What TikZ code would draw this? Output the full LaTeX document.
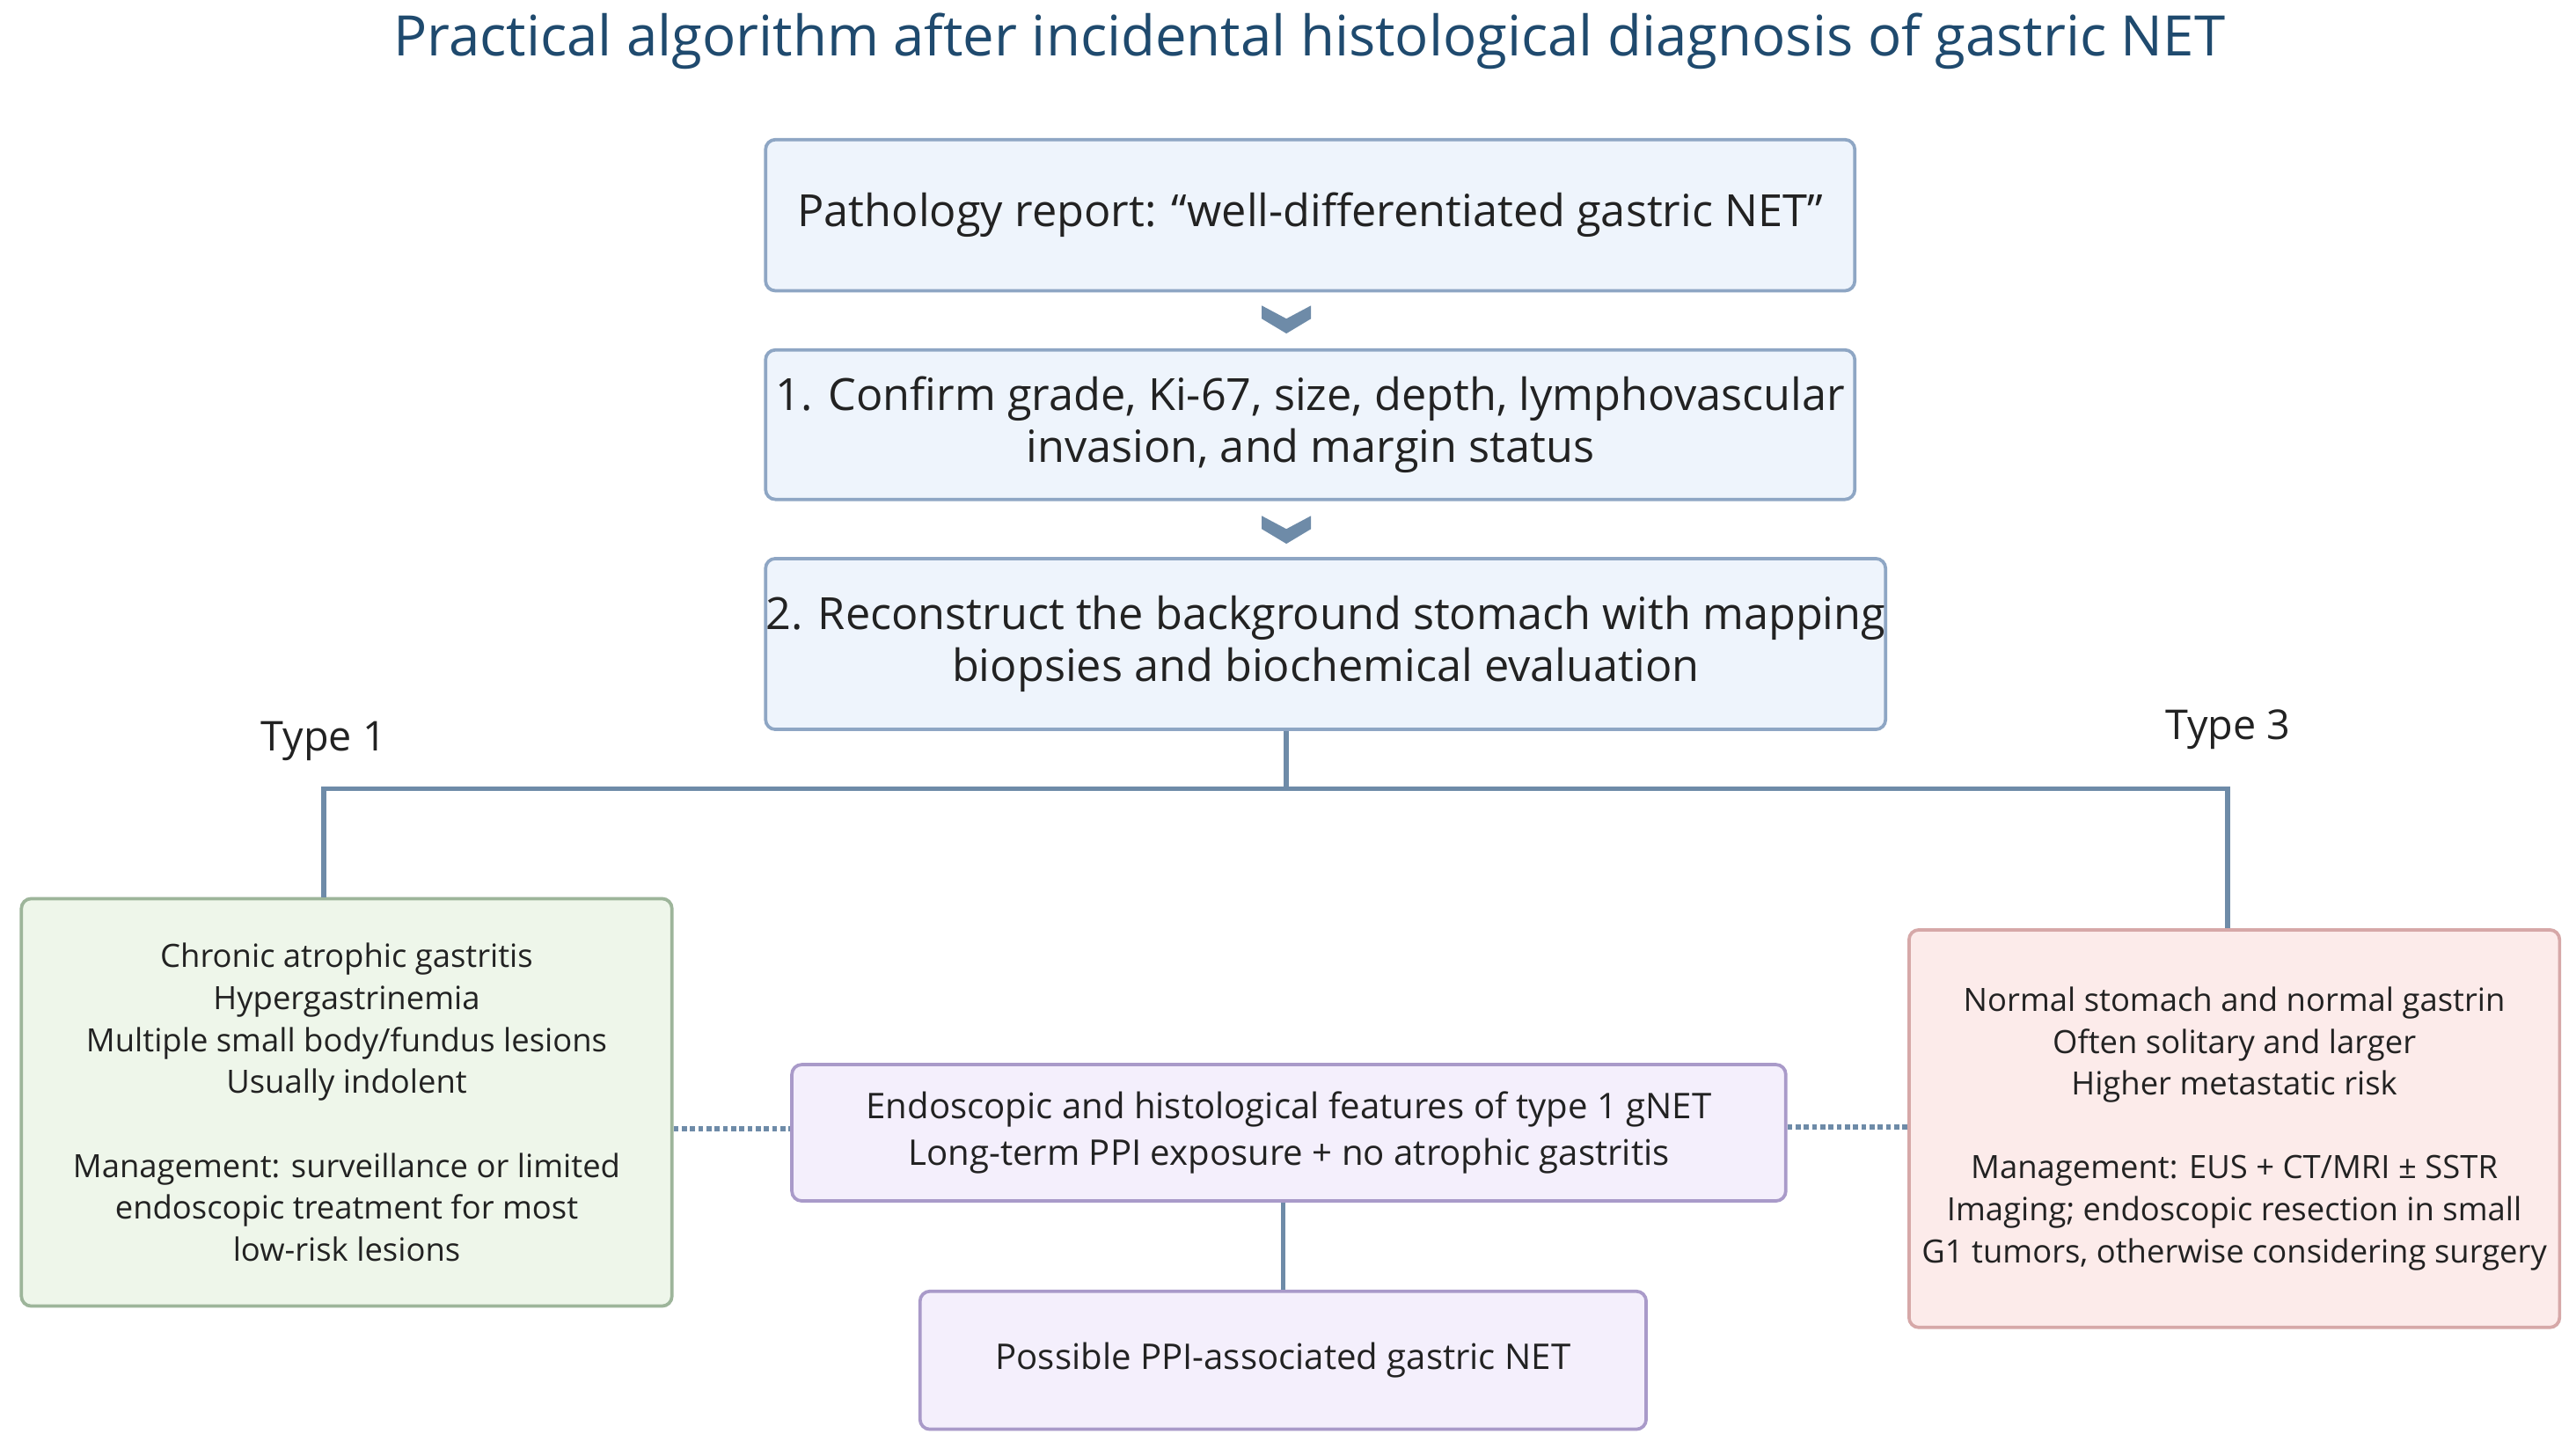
\documentclass[tikz,border=0pt]{standalone}
\usepackage{fontspec}
\setmainfont{Open Sans}
\definecolor{linec}{HTML}{6E8BA8}
\definecolor{titlec}{HTML}{1F4A6E}
\definecolor{bluef}{HTML}{EEF4FC}
\definecolor{blueb}{HTML}{8EA6C4}
\definecolor{greenf}{HTML}{EEF6EA}
\definecolor{greenb}{HTML}{9DB59A}
\definecolor{redf}{HTML}{FCEBEA}
\definecolor{redb}{HTML}{D6A8A8}
\definecolor{purf}{HTML}{F4EFFC}
\definecolor{purb}{HTML}{A99AC9}
\definecolor{txt}{HTML}{222222}
\begin{document}
\begin{tikzpicture}[x=1pt,y=-1pt,
  box/.style={draw, line width=2pt, rounded corners=6pt, anchor=north west, inner sep=0pt, align=center, text=txt},
  conn/.style={draw=linec, line width=3pt},
  dotc/.style={draw=linec, line width=3pt, dotted},
  big/.style={font=\fontsize{27}{32}\selectfont},
  small/.style={font=\fontsize{19.5}{25.5}\selectfont},
  mid/.style={font=\fontsize{21.5}{28}\selectfont}]
\useasboundingbox[fill=white] (0,0) rectangle (1568,882);
\node[text=titlec, font=\fontsize{34}{38}\selectfont] (title) at (797,25) {Practical algorithm after incidental histological diagnosis of gastric NET};
\node[box, draw=blueb, fill=bluef, minimum width=663pt, minimum height=92pt, big] (p0) at (465,84) {Pathology report: “well-differentiated gastric NET”};
\node[box, draw=blueb, fill=bluef, minimum width=663pt, minimum height=91pt, big] (b1) at (465,212) {1. Confirm grade, Ki-67, size, depth, lymphovascular\\invasion, and margin status};
\node[box, draw=blueb, fill=bluef, minimum width=663pt, minimum height=104pt, big] (b2) at (465,339) {2. Reconstruct the background stomach with mapping\\biopsies and biochemical evaluation};
\foreach \y/\n in {186/c1,314/c2}{
  \coordinate (\n) at (783,\y);
  \fill[linec] (768,\y) -- (783,\y+8) -- (798,\y) -- (798,\y+8) -- (783,\y+17) -- (768,\y+8) -- cycle;
}
\node[box, draw=greenb, fill=greenf, minimum width=396pt, minimum height=248pt, small] (L) at (12,546) {Chronic atrophic gastritis\\Hypergastrinemia\\Multiple small body/fundus lesions\\Usually indolent\\[25.5pt]Management: surveillance or limited\\endoscopic treatment for most\\low-risk lesions};
\node[box, draw=redb, fill=redf, minimum width=396pt, minimum height=242pt, small] (R) at (1161,565) {Normal stomach and normal gastrin\\Often solitary and larger\\Higher metastatic risk\\[25.5pt]Management: EUS + CT/MRI ± SSTR\\Imaging; endoscopic resection in small\\G1 tumors, otherwise considering surgery};
\node[box, draw=purb, fill=purf, minimum width=605pt, minimum height=83pt, mid] (M) at (481,647) {Endoscopic and histological features of type 1 gNET\\Long-term PPI exposure + no atrophic gastritis};
\node[box, draw=purb, fill=purf, minimum width=442pt, minimum height=84pt, mid] (B) at (559,785) {Possible PPI-associated gastric NET};
\node[font=\fontsize{25}{28}\selectfont, text=txt] (t1) at (197,451) {Type 1};
\node[font=\fontsize{25}{28}\selectfont, text=txt] (t3) at (1356,444) {Type 3};
\coordinate (j) at (783,480);
\draw[conn] (b2.south -| j) -- (j);
\draw[conn, line cap=rect] (197,480) -- (1356,480);
\draw[conn] (197,480) -- (L.north -| 197,0);
\draw[conn] (1356,480) -- (R.north -| 1356,0);
\draw[dotc] (L.east |- 0,687) -- (M.west |- 0,687);
\draw[dotc] (M.east |- 0,686) -- (R.west |- 0,686);
\draw[conn] (M.south -| 781,0) -- (B.north -| 781,0);
\end{tikzpicture}
\end{document}
